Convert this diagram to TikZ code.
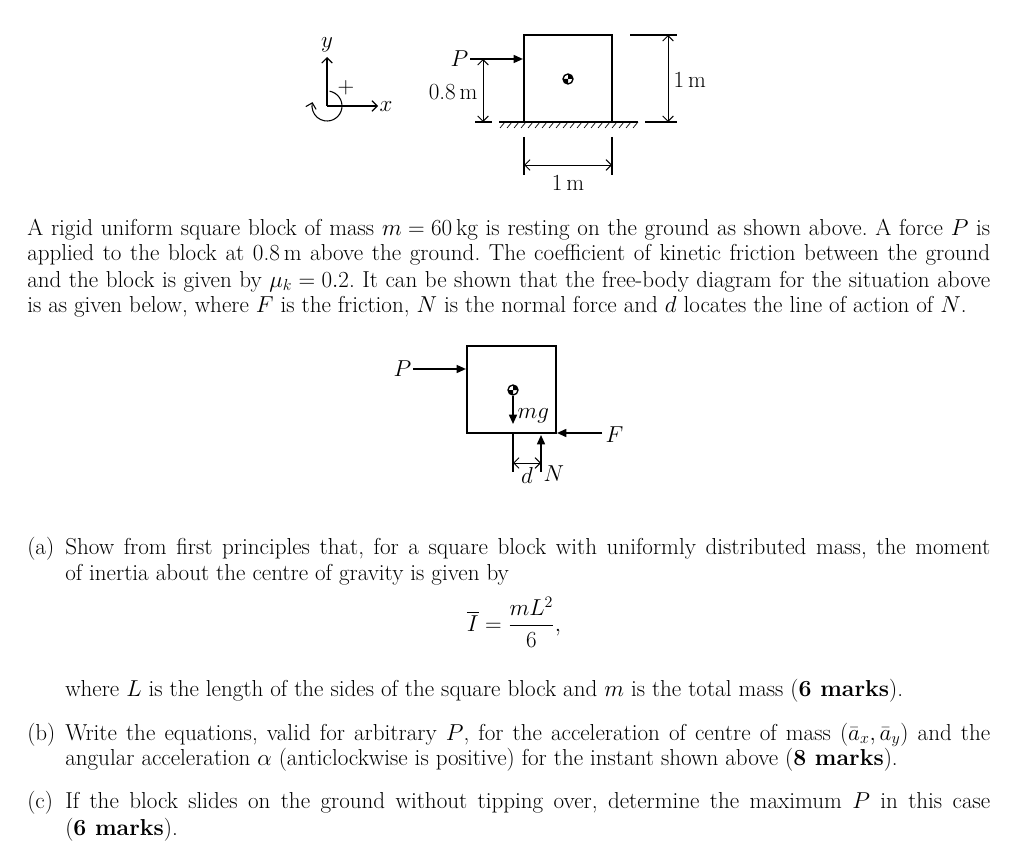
\documentclass[tikz,border=0pt]{standalone}
\usepackage{amsmath}
\usetikzlibrary{arrows.meta}
\frenchspacing
\begin{document}
\begin{tikzpicture}[x=0.75pt,y=-0.75pt,
  line/.style={line width=0.8pt},
  thick/.style={line width=1.6pt},
  force/.style={line width=1.2pt,-{Triangle[length=7pt,width=6pt]}},
  dim/.style={line width=0.7pt,{Straight Barb[length=4pt]}-{Straight Barb[length=4pt]}},
  txt/.style={inner sep=0pt,anchor=base west,font=\fontsize{17.3}{20}\selectfont},
  lbl/.style={inner sep=1pt,font=\fontsize{17.3}{20}\selectfont}]
\useasboundingbox (0,0) rectangle (1024,852);
\newcommand{\cgsym}[2]{%
  \fill (#1,#2) -- ++(-5,0) arc (180:90:5) -- cycle;
  \fill (#1,#2) -- ++(5,0) arc (0:-90:5) -- cycle;
  \draw[line width=1pt] (#1,#2) circle (5);}
% axes
\coordinate (O) at (327,106);
\coordinate (Y) at (327,57);
\coordinate (X) at (378,106);
\draw[line,-{Straight Barb[length=4pt]}] (O) -- (Y);
\draw[line,-{Straight Barb[length=4pt]}] (O) -- (X);
\node[lbl] (ylab) at (327,45) {$y$};
\node[lbl] (xlab) at (386,107) {$x$};
\node[lbl] (plus) at (346,88) {$+$};
\draw[line,-{Straight Barb[length=4pt]}] (O) ++(-80:15) arc (-80:195:15);
% top block
\node[draw,thick,minimum width=88*0.75pt,minimum height=87*0.75pt,inner sep=0pt] (B) at (568,78.5) {};
\cgsym{568}{79}
\draw[line] (499,122) -- (638,122);
\foreach \i in {0,...,19} \draw[line width=0.5pt] (500+7*\i,128) -- (505+7*\i,122);
\coordinate (Pst) at (470,59);
\draw[force] (Pst) -- (B.west |- Pst);
\node[lbl,anchor=east] (Plab) at (Pst) {$P$};
\draw[line] (475,122) -- (492,122);
\draw[dim] (483,59) -- (483,122);
\node[lbl,anchor=east] (h08) at (479,92) {0.8\,m};
\draw[line] (630,35) -- (677,35);
\draw[line] (645,122) -- (677,122);
\draw[dim] (668,35) -- (668,122);
\node[lbl,anchor=west] (h1) at (672,80) {1\,m};
\draw[line] (524,137) -- (524,175);
\draw[line] (612,137) -- (612,175);
\draw[dim] (524,165) -- (612,165);
\node[lbl] (w1) at (568,183) {1\,m};
% text
\node[txt] (t1) at (27,236) {\makebox[963\dimexpr0.75pt][s]{A rigid uniform square block of mass ${m=60}\,$kg is resting on the ground as shown above. A force $P$ is}};
\node[txt] (t2) at (27,261) {\makebox[963\dimexpr0.75pt][s]{applied to the block at 0.8\,m above the ground. The coefficient of kinetic friction between the ground}};
\node[txt] (t3) at (27,287) {\makebox[963\dimexpr0.75pt][s]{and the block is given by ${\mu_k=0.2}$. It can be shown that the free-body diagram for the situation above}};
\node[txt] (t4) at (27,312) {is as given below, where $F$ is the friction, $N$ is the normal force and $d$ locates the line of action of $N$.};
% FBD
\node[draw,thick,minimum width=89*0.75pt,minimum height=87*0.75pt,inner sep=0pt] (C) at (511.5,389.5) {};
\cgsym{513}{390}
\coordinate (P2) at (413,369);
\draw[force] (P2) -- (C.west |- P2);
\node[lbl,anchor=east] (P2lab) at (P2) {$P$};
\coordinate (mg0) at (513,396);
\coordinate (mg1) at (513,424);
\draw[force] (mg0) -- (mg1);
\node[lbl,anchor=west] (mglab) at (516,416) {$mg$};
\coordinate (F0) at (602,433);
\draw[force] (F0) -- (557,433);
\node[lbl,anchor=west] (Flab) at (604,435) {$F$};
\coordinate (N0) at (541,472);
\coordinate (N1) at (541,435);
\draw[force] (N0) -- (N1);
\node[lbl,anchor=west] (Nlab) at (542,474) {$N$};
\draw[line] (513,433) -- (513,472);
\draw[dim] (513,463) -- (541,463);
\node[lbl] (dlab) at (527,475) {$d$};
% parts
\node[txt] (a) at (27,554) {(a)};
\node[txt] (a1) at (65,554) {\makebox[925\dimexpr0.75pt][s]{Show from first principles that, for a square block with uniformly distributed mass, the moment}};
\node[txt] (a2) at (65,580) {of inertia about the centre of gravity is given by};
\node[lbl] (eq) at (514,622) {$\displaystyle \overline{I}=\frac{mL^2}{6},$};
\node[txt] (a3) at (65,696) {where $L$ is the length of the sides of the square block and $m$ is the total mass (\textbf{6 marks}).};
\node[txt] (b) at (27,740) {(b)};
\node[txt] (b1) at (65,740) {\makebox[925\dimexpr0.75pt][s]{Write the equations, valid for arbitrary $P$, for the acceleration of centre of mass ${(\bar a_x,\bar a_y)}$ and the}};
\node[txt] (b2) at (65,765) {angular acceleration $\alpha$ (anticlockwise is positive) for the instant shown above (\textbf{8 marks}).};
\node[txt] (c) at (27,808) {(c)};
\node[txt] (c1) at (65,808) {\makebox[925\dimexpr0.75pt][s]{If the block slides on the ground without tipping over, determine the maximum $P$ in this case}};
\node[txt] (c2) at (65,835) {(\textbf{6 marks}).};
\end{tikzpicture}
\end{document}
